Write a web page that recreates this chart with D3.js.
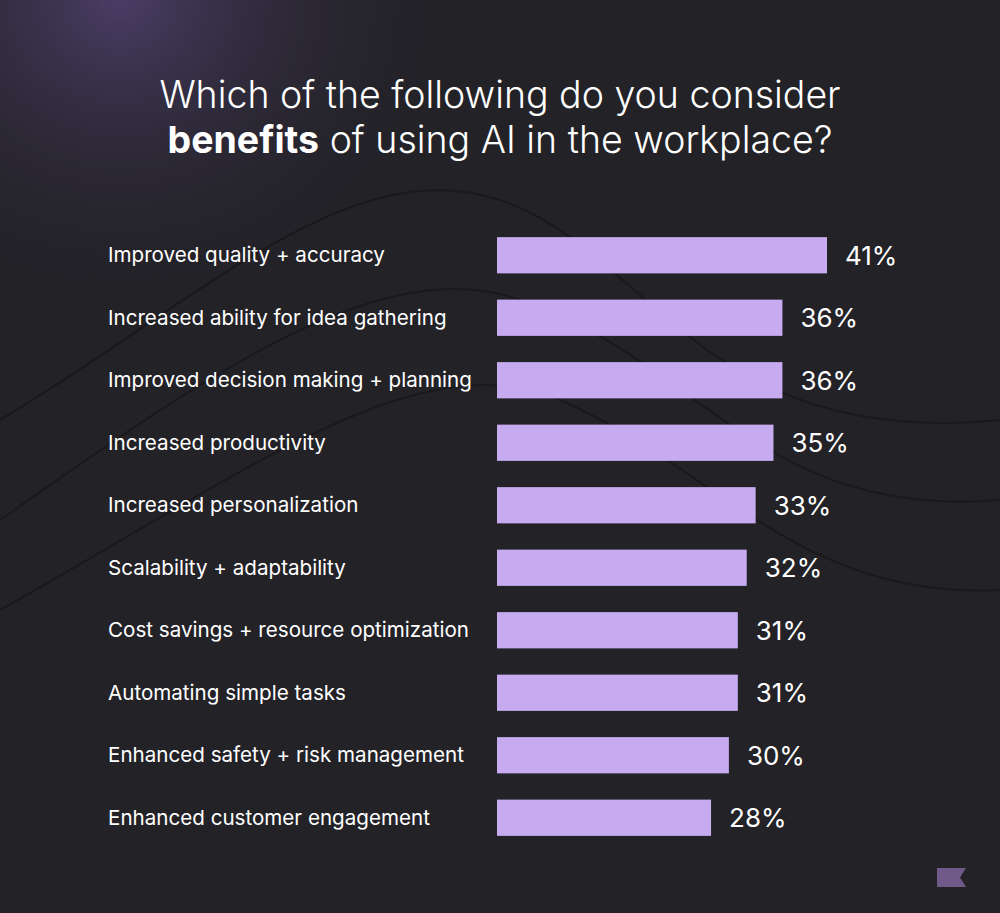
<!DOCTYPE html>
<html>
<head>
<meta charset="utf-8">
<script src="https://cdn.jsdelivr.net/npm/d3@7"></script>
<style>
  body { margin: 0; background: #232227; }
  svg { display: block; font-family: Inter, "Noto Sans", sans-serif; }
</style>
</head>
<body>
<svg id="chart"></svg>
<script>
const categories = [
  "Improved quality + accuracy",
  "Increased ability for idea gathering",
  "Improved decision making + planning",
  "Increased productivity",
  "Increased personalization",
  "Scalability + adaptability",
  "Cost savings + resource optimization",
  "Automating simple tasks",
  "Enhanced safety + risk management",
  "Enhanced customer engagement"
];
const values = [41, 36, 36, 35, 33, 32, 31, 31, 30, 28];

const width = 1000, height = 913;
const svg = d3.select("#chart").attr("width", width).attr("height", height);

// background with soft purple glow top left
const defs = svg.append("defs");
const glow = defs.append("radialGradient").attr("id", "glow")
  .attr("cx", "12%").attr("cy", "0%").attr("r", "35%");
glow.append("stop").attr("offset", "0%").attr("stop-color", "#4a3d66");
glow.append("stop").attr("offset", "100%").attr("stop-color", "#232227").attr("stop-opacity", 0);
svg.append("rect").attr("width", width).attr("height", height).attr("fill", "#232227");
svg.append("rect").attr("width", width).attr("height", height).attr("fill", "url(#glow)");

// faint swooping lines
const bg = svg.append("g").attr("fill", "none").attr("stroke", "#1a191d").attr("stroke-width", 2);
bg.append("path").attr("d", "M0,420 C200,300 350,150 500,200 C650,250 700,450 1000,420");
bg.append("path").attr("d", "M0,520 C200,380 380,250 520,300 C700,360 760,520 1000,500");
bg.append("path").attr("d", "M0,610 C250,470 420,340 560,400 C720,470 800,600 1000,590");

// title
const title = svg.append("text").attr("text-anchor", "middle").attr("fill", "#ffffff")
  .attr("font-size", 37.5).attr("font-weight", 300);
title.append("tspan").attr("x", 500).attr("y", 108)
  .text("Which of the following do you consider");
const t2 = title.append("tspan").attr("x", 500).attr("y", 153);
t2.append("tspan").attr("font-weight", 700).text("benefits");
t2.append("tspan").text(" of using AI in the workplace?");

// the chart's bars are cropped: axis origin sits left of where the bars start
const x = d3.scaleLinear().domain([4, 41]).range([497, 827]);
const y = d3.scaleBand().domain(categories).range([224, 849]).paddingInner(0.42).paddingOuter(0.21);

const rows = svg.append("g").selectAll("g").data(categories).join("g");

rows.append("text")
  .attr("x", 108)
  .attr("y", d => y(d) + y.bandwidth() / 2)
  .attr("dy", "0.35em")
  .attr("fill", "#ffffff")
  .attr("font-size", 20.6)
  .text(d => d);

rows.append("rect")
  .attr("x", x(4))
  .attr("y", d => y(d))
  .attr("width", (d, i) => x(values[i]) - x(4))
  .attr("height", y.bandwidth())
  .attr("fill", "#c7abf0");

rows.append("text")
  .attr("x", (d, i) => x(values[i]) + 18)
  .attr("y", d => y(d) + y.bandwidth() / 2)
  .attr("dy", "0.36em")
  .attr("fill", "#ffffff")
  .attr("font-size", 26)
  .text((d, i) => values[i] + "%");

// logo
svg.append("path")
  .attr("d", "M937,868 L966,868 L960,877.5 L966,887 L937,887 Z")
  .attr("fill", "#6f5a8a");
</script>
</body>
</html>
